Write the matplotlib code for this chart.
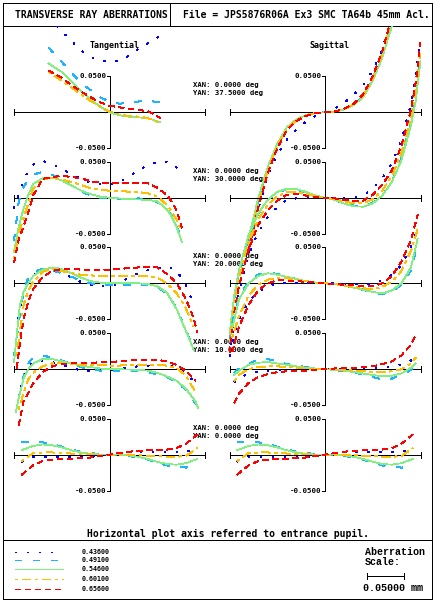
import matplotlib
matplotlib.use("Agg")
import matplotlib.pyplot as plt
from matplotlib.patches import Rectangle

nan = float("nan")
W, H = 440, 603

WAVELENGTHS = ["0.43600", "0.49100", "0.54600", "0.60100", "0.65600"]
COLORS = ["#0000ff", "#1eb4ff", "#80f080", "#ffbe00", "#ff0000"]
DASHES = [(1.1, 7.5), (5.0, 8.0), None, (2.0, 3.0, 6.0, 3.0), (4.3, 3.2)]
XAN = [0.0, 0.0, 0.0, 0.0, 0.0]
YAN = [37.5, 30.0, 20.0, 10.0, 0.0]

# ---- tangential fans (pupil py, aberration ey in mm) ----
t1_pupil = [-0.64, -0.5, -0.4, -0.3, -0.2, -0.1, 0.0, 0.1, 0.2, 0.3, 0.4, 0.53]
t1_436 = [0.132, 0.113, 0.099, 0.086, 0.077, 0.072, 0.070, 0.072, 0.078, 0.088, 0.096, 0.106]
t1_491 = [0.090, 0.070, 0.055, 0.041, 0.031, 0.021, 0.015, 0.012, 0.013, 0.015, 0.016, 0.014]
t1_546 = [0.068, 0.056, 0.043, 0.030, 0.018, 0.008, 0.000, -0.004, -0.006, -0.007, -0.008, -0.014]
t1_601 = [0.056, 0.044, 0.035, 0.025, 0.016, 0.008, 0.001, -0.003, -0.005, -0.006, -0.008, -0.015]
t1_656 = [0.058, 0.048, 0.038, 0.029, 0.021, 0.014, 0.009, 0.007, 0.005, 0.003, 0.002, -0.008]

t2_pupil = [-1.0, -0.95, -0.9, -0.85, -0.8, -0.7, -0.6, -0.5, -0.4, -0.3, -0.2, -0.1,
            0.0, 0.1, 0.2, 0.3, 0.4, 0.5, 0.6, 0.65, 0.7, 0.76]
t2_436 = [-0.015, 0.006, 0.024, 0.038, 0.046, 0.051, 0.047, 0.040, 0.033, 0.026, 0.021, 0.019,
          0.018, 0.021, 0.029, 0.038, 0.045, 0.050, 0.050, 0.048, 0.042, 0.030]
t2_491 = [-0.060, -0.005, 0.015, 0.025, 0.032, 0.036, 0.032, 0.025, 0.017, 0.009, 0.003, 0.000,
          -0.001, -0.002, -0.002, -0.001, -0.002, -0.006, -0.015, -0.025, -0.038, -0.060]
t2_546 = [-0.075, -0.040, -0.015, 0.004, 0.019, 0.027, 0.028, 0.024, 0.017, 0.010, 0.005, 0.0015,
          0.0, -0.001, -0.002, -0.0025, -0.003, -0.005, -0.016, -0.026, -0.040, -0.062]
t2_601 = [-0.085, -0.050, -0.028, -0.008, 0.012, 0.025, 0.028, 0.025, 0.022, 0.018, 0.013, 0.011,
          0.0097, 0.009, 0.0085, 0.008, 0.006, 0.002, -0.010, -0.019, -0.030, -0.047]
t2_656 = [-0.090, -0.058, -0.040, -0.020, 0.003, 0.026, 0.029, 0.030, 0.029, 0.027, 0.023, 0.021,
          0.021, 0.021, 0.021, 0.021, 0.020, 0.014, 0.004, -0.005, -0.017, -0.042]

t3_pupil = [-1.0, -0.97, -0.94, -0.9, -0.85, -0.8, -0.7, -0.6, -0.5, -0.4, -0.3, -0.2, -0.1,
            0.0, 0.1, 0.2, 0.3, 0.4, 0.5, 0.6, 0.7, 0.8, 0.88, 0.92]
t3_436 = [nan, -0.065, -0.035, -0.012, 0.004, 0.012, 0.018, 0.018, 0.015, 0.008, 0.002, -0.002, -0.004,
          -0.004, 0.000, 0.008, 0.014, 0.018, 0.021, 0.024, 0.018, -0.002, -0.030, nan]
t3_491 = [-0.100, -0.075, -0.045, -0.012, 0.008, 0.016, 0.020, 0.018, 0.014, 0.009, 0.004, 0.000, -0.002,
          -0.003, -0.003, -0.003, -0.002, -0.002, -0.005, -0.014, -0.034, -0.065, -0.090, nan]
t3_546 = [-0.110, -0.070, -0.032, -0.012, 0.000, 0.010, 0.019, 0.022, 0.020, 0.014, 0.008, 0.003, 0.001,
          0.000, 0.000, 0.000, 0.000, -0.001, -0.004, -0.013, -0.035, -0.066, -0.092, nan]
t3_601 = [nan, -0.100, -0.070, -0.030, -0.010, 0.002, 0.016, 0.020, 0.017, 0.014, 0.012, 0.011, 0.010,
          0.010, 0.010, 0.010, 0.010, 0.010, 0.008, 0.000, -0.013, -0.035, -0.060, nan]
t3_656 = [nan, -0.118, -0.085, -0.050, -0.025, -0.008, 0.009, 0.017, 0.020, 0.020, 0.019, 0.018, 0.018,
          0.019, 0.020, 0.021, 0.022, 0.023, 0.022, 0.013, 0.001, -0.022, -0.048, -0.068]

t4_pupil = [-0.98, -0.95, -0.9, -0.85, -0.8, -0.7, -0.6, -0.5, -0.4, -0.3, -0.2, -0.1,
            0.0, 0.1, 0.2, 0.3, 0.4, 0.5, 0.6, 0.7, 0.8, 0.9, 0.93]
t4_436 = [nan, -0.040, -0.010, 0.004, 0.010, 0.012, 0.010, 0.006, 0.002, -0.002, -0.003, -0.003,
          -0.002, 0.000, 0.002, 0.004, 0.005, 0.006, 0.006, 0.004, -0.004, -0.020, nan]
t4_491 = [nan, -0.040, -0.010, 0.008, 0.016, 0.019, 0.016, 0.012, 0.008, 0.003, 0.000, -0.002,
          -0.003, -0.003, -0.003, -0.003, -0.004, -0.007, -0.011, -0.018, -0.028, -0.048, nan]
t4_546 = [-0.060, -0.040, -0.013, 0.000, 0.008, 0.014, 0.014, 0.011, 0.008, 0.005, 0.003, 0.001,
          0.000, 0.000, -0.0005, -0.001, -0.002, -0.005, -0.010, -0.016, -0.027, -0.045, -0.054]
t4_601 = [nan, -0.056, -0.033, -0.014, -0.005, 0.004, 0.008, 0.008, 0.007, 0.006, 0.006, 0.006,
          0.005, 0.005, 0.006, 0.006, 0.006, 0.006, 0.005, 0.002, -0.009, -0.032, nan]
t4_656 = [nan, -0.078, -0.045, -0.033, -0.020, -0.004, 0.004, 0.007, 0.008, 0.009, 0.009, 0.0095,
          0.010, 0.011, 0.012, 0.0125, 0.013, 0.013, 0.011, 0.006, -0.002, -0.016, nan]

# on-axis field: tangential and sagittal fans are the same
r5_pupil = [-0.92, -0.8, -0.7, -0.6, -0.5, -0.4, -0.3, -0.2, -0.1, 0.0,
            0.1, 0.2, 0.3, 0.4, 0.5, 0.6, 0.7, 0.8, 0.92]
r5_436 = [-0.010, -0.003, -0.003, -0.003, -0.003, -0.003, -0.003, -0.003, -0.002, 0.0,
          0.002, 0.003, 0.003, 0.003, 0.003, 0.003, 0.003, 0.003, 0.010]
r5_491 = [0.017, 0.018, 0.017, 0.015, 0.011, 0.007, 0.004, 0.002, 0.001, 0.0,
          -0.001, -0.002, -0.004, -0.007, -0.011, -0.015, -0.017, -0.018, -0.017]
r5_546 = [0.006, 0.012, 0.014, 0.013, 0.010, 0.006, 0.003, 0.001, 0.0, 0.0,
          0.0, -0.001, -0.003, -0.006, -0.010, -0.013, -0.014, -0.012, -0.006]
r5_601 = [-0.009, 0.002, 0.003, 0.003, 0.002, 0.0015, 0.001, 0.0005, 0.0, 0.0,
          0.0, -0.0005, -0.001, -0.0015, -0.002, -0.003, -0.003, -0.002, 0.009]
r5_656 = [-0.028, -0.015, -0.009, -0.007, -0.0065, -0.006, -0.005, -0.004, -0.002, 0.0,
          0.002, 0.004, 0.005, 0.006, 0.0065, 0.007, 0.009, 0.015, 0.028]

# ---- sagittal fans (pupil px, aberration ex in mm) ----
s1_pupil = [-0.8, -0.7, -0.6, -0.5, -0.4, -0.3, -0.2, -0.1, 0.0, 0.1, 0.2, 0.3, 0.4, 0.5, 0.6, 0.7, 0.8]
s1_436 = [-0.195, -0.135, -0.088, -0.058, -0.038, -0.024, -0.013, -0.005, 0.0,
          0.005, 0.013, 0.024, 0.038, 0.058, 0.088, 0.135, 0.195]
s1_491 = [-0.182, -0.125, -0.079, -0.046, -0.022, -0.011, -0.004, -0.001, 0.0,
          0.001, 0.004, 0.011, 0.022, 0.046, 0.079, 0.125, 0.182]
s1_546 = [-0.175, -0.120, -0.076, -0.044, -0.021, -0.010, -0.004, -0.001, 0.0,
          0.001, 0.004, 0.010, 0.021, 0.044, 0.076, 0.120, 0.175]
s1_601 = [-0.186, -0.128, -0.081, -0.047, -0.023, -0.011, -0.004, -0.001, 0.0,
          0.001, 0.004, 0.011, 0.023, 0.047, 0.081, 0.128, 0.186]
s1_656 = [-0.192, -0.133, -0.085, -0.050, -0.025, -0.012, -0.005, -0.001, 0.0,
          0.001, 0.005, 0.012, 0.025, 0.050, 0.085, 0.133, 0.192]

s2_pupil = [-1.0, -0.95, -0.9, -0.8, -0.7, -0.6, -0.5, -0.4, -0.3, -0.2, -0.1, 0.0,
            0.1, 0.2, 0.3, 0.4, 0.5, 0.6, 0.7, 0.8, 0.9, 0.95, 1.0]
s2_436 = [-0.220, -0.170, -0.130, -0.080, -0.048, -0.027, -0.013, -0.003, -0.001, 0.0, 0.0, 0.0,
          0.0, 0.0, 0.001, 0.003, 0.013, 0.027, 0.048, 0.080, 0.130, 0.170, 0.220]
s2_491 = [-0.195, -0.140, -0.105, -0.055, -0.023, -0.003, 0.007, 0.012, 0.011, 0.008, 0.003, 0.0,
          -0.003, -0.008, -0.011, -0.012, -0.007, 0.003, 0.023, 0.055, 0.105, 0.140, 0.195]
s2_546 = [-0.190, -0.135, -0.100, -0.052, -0.022, -0.003, 0.008, 0.0125, 0.012, 0.008, 0.003, 0.0,
          -0.003, -0.008, -0.012, -0.0125, -0.008, 0.003, 0.022, 0.052, 0.100, 0.135, 0.190]
s2_601 = [-0.200, -0.150, -0.112, -0.062, -0.030, -0.010, 0.002, 0.008, 0.008, 0.005, 0.002, 0.0,
          -0.002, -0.005, -0.008, -0.008, -0.002, 0.010, 0.030, 0.062, 0.112, 0.150, 0.200]
s2_656 = [-0.215, -0.160, -0.122, -0.072, -0.038, -0.018, -0.004, 0.004, 0.005, 0.003, 0.001, 0.0,
          -0.001, -0.003, -0.005, -0.004, 0.004, 0.018, 0.038, 0.072, 0.122, 0.160, 0.215]

s3_pupil = [-0.97, -0.9, -0.8, -0.7, -0.6, -0.5, -0.4, -0.3, -0.2, -0.1, 0.0,
            0.1, 0.2, 0.3, 0.4, 0.5, 0.6, 0.7, 0.8, 0.9, 0.97]
s3_436 = [-0.080, -0.050, -0.025, -0.012, -0.004, 0.0, 0.001, 0.001, 0.001, 0.0, 0.0,
          0.0, -0.001, -0.001, -0.001, 0.0, 0.004, 0.012, 0.025, 0.050, 0.080]
s3_491 = [-0.055, -0.018, 0.002, 0.012, 0.015, 0.013, 0.009, 0.006, 0.003, 0.001, 0.0,
          -0.001, -0.003, -0.006, -0.009, -0.013, -0.015, -0.012, -0.002, 0.018, 0.055]
s3_546 = [-0.062, -0.022, 0.000, 0.010, 0.014, 0.012, 0.009, 0.006, 0.003, 0.001, 0.0,
          -0.001, -0.003, -0.006, -0.009, -0.012, -0.014, -0.010, 0.000, 0.022, 0.062]
s3_601 = [-0.075, -0.045, -0.017, -0.002, 0.005, 0.008, 0.007, 0.005, 0.003, 0.001, 0.0,
          -0.001, -0.003, -0.005, -0.007, -0.008, -0.005, 0.002, 0.017, 0.045, 0.075]
s3_656 = [-0.095, -0.060, -0.030, -0.010, 0.000, 0.004, 0.004, 0.003, 0.002, 0.001, 0.0,
          -0.001, -0.002, -0.003, -0.004, -0.004, 0.000, 0.010, 0.030, 0.060, 0.095]

s4_pupil = [-0.95, -0.9, -0.8, -0.7, -0.6, -0.5, -0.4, -0.3, -0.2, -0.1, 0.0,
            0.1, 0.2, 0.3, 0.4, 0.5, 0.6, 0.7, 0.8, 0.9, 0.95]
s4_436 = [-0.018, -0.012, -0.006, -0.003, -0.002, -0.001, -0.001, -0.001, -0.001, 0.0, 0.0,
          0.0, 0.001, 0.001, 0.001, 0.001, 0.002, 0.003, 0.006, 0.012, 0.018]
s4_491 = [-0.005, 0.001, 0.008, 0.013, 0.014, 0.011, 0.007, 0.005, 0.003, 0.001, 0.0,
          -0.001, -0.003, -0.005, -0.007, -0.011, -0.014, -0.013, -0.008, -0.001, 0.005]
s4_546 = [-0.008, -0.002, 0.006, 0.009, 0.010, 0.008, 0.006, 0.004, 0.002, 0.001, 0.0,
          -0.001, -0.002, -0.004, -0.006, -0.008, -0.010, -0.009, -0.006, 0.002, 0.008]
s4_601 = [-0.016, -0.008, 0.000, 0.003, 0.004, 0.004, 0.003, 0.002, 0.001, 0.0005, 0.0,
          -0.0005, -0.001, -0.002, -0.003, -0.004, -0.004, -0.003, 0.000, 0.008, 0.016]
s4_656 = [-0.047, -0.034, -0.019, -0.011, -0.007, -0.004, -0.003, -0.002, -0.002, -0.001, 0.0,
          0.001, 0.002, 0.002, 0.003, 0.004, 0.007, 0.011, 0.019, 0.034, 0.047]

TANGENTIAL = [
    (t1_pupil, [t1_436, t1_491, t1_546, t1_601, t1_656]),
    (t2_pupil, [t2_436, t2_491, t2_546, t2_601, t2_656]),
    (t3_pupil, [t3_436, t3_491, t3_546, t3_601, t3_656]),
    (t4_pupil, [t4_436, t4_491, t4_546, t4_601, t4_656]),
    (r5_pupil, [r5_436, r5_491, r5_546, r5_601, r5_656]),
]
SAGITTAL = [
    (s1_pupil, [s1_436, s1_491, s1_546, s1_601, s1_656]),
    (s2_pupil, [s2_436, s2_491, s2_546, s2_601, s2_656]),
    (s3_pupil, [s3_436, s3_491, s3_546, s3_601, s3_656]),
    (s4_pupil, [s4_436, s4_491, s4_546, s4_601, s4_656]),
    (r5_pupil, [r5_436, r5_491, r5_546, r5_601, r5_656]),
]

# layout in pixels
ROW_Y0 = [112.3, 197.7, 283.3, 369.2, 454.6]
COL_X0 = [109.5, 325.0]
HALF_W = 95.5
HALF_H = 36.0
SCALE = 0.05
LW_CURVE = 0.55
LW_AXIS = 0.7

plt.rcParams["lines.scale_dashes"] = False
MONO = "DejaVu Sans Mono"

fig = plt.figure(figsize=(W / 100, H / 100), dpi=100)
fig.patch.set_facecolor("white")

bg = fig.add_axes([0, 0, 1, 1])
bg.set_xlim(0, W)
bg.set_ylim(H, 0)
bg.axis("off")

# frame
kw = dict(color="black", lw=LW_AXIS, antialiased=False)
bg.plot([3, 432, 432, 3, 3], [3, 3, 599, 599, 3], **kw)
bg.plot([3, 432], [26, 26], **kw)
bg.plot([170, 170], [3, 26], **kw)
bg.plot([3, 432], [540, 540], **kw)

bg.text(15, 15, "TRANSVERSE RAY ABERRATIONS", family=MONO, weight="bold",
        fontsize=7.0, va="center", ha="left")
bg.text(183, 15, "File = JPS5876R06A Ex3 SMC TA64b 45mm Acl.", family=MONO,
        weight="bold", fontsize=7.0, va="center", ha="left")

bg.text(115, 45, "Tangential", family=MONO, fontsize=6, weight="bold", va="center", ha="center")
bg.text(329, 45, "Sagittal", family=MONO, fontsize=6, weight="bold", va="center", ha="center")

frame_clip = Rectangle((3 / W, 1 - 540 / H), 429 / W, 514 / H, transform=fig.transFigure)


def draw_panel(col, row, pupil, series):
    x0 = COL_X0[col]
    y0 = ROW_Y0[row]
    ax = fig.add_axes([(x0 - HALF_W) / W, 1 - (y0 + HALF_H) / H, 2 * HALF_W / W, 2 * HALF_H / H])
    ax.set_xlim(-1, 1)
    ax.set_ylim(-SCALE, SCALE)
    ax.axis("off")
    akw = dict(color="black", lw=LW_AXIS, antialiased=False, clip_on=False)
    tick_x = 3.0 / HALF_W
    tick_y = 3.0 / HALF_H * SCALE
    ax.plot([-1, 1], [0, 0], **akw)
    ax.plot([0, 0], [-SCALE, SCALE], **akw)
    for sx in (-1, 1):
        ax.plot([sx, sx], [-tick_y, tick_y], **akw)
    for sy in (-SCALE, SCALE):
        ax.plot([-tick_x, 0], [sy, sy], **akw)
    for vals, color, dash in zip(series, COLORS, DASHES):
        line, = ax.plot(pupil, vals, color=color, lw=LW_CURVE, antialiased=False)
        if dash is not None:
            line.set_dashes(dash)
        line.set_clip_path(frame_clip)
    bg.text(x0 - 3.5, y0 - HALF_H, "0.0500", family=MONO, weight="bold",
            fontsize=5.3, ha="right", va="center")
    bg.text(x0 - 3.5, y0 + HALF_H, "-0.0500", family=MONO, weight="bold",
            fontsize=5.3, ha="right", va="center")


for i in range(5):
    draw_panel(0, i, *TANGENTIAL[i])
    draw_panel(1, i, *SAGITTAL[i])
    y0 = ROW_Y0[i]
    bg.text(193, y0 - 27, f"XAN: {XAN[i]:.4f} deg", family=MONO, weight="bold",
            fontsize=5.2, ha="left", va="center")
    bg.text(193, y0 - 19, f"YAN: {YAN[i]:.4f} deg", family=MONO, weight="bold",
            fontsize=5.2, ha="left", va="center")

bg.text(87, 534, "Horizontal plot axis referred to entrance pupil.", family=MONO,
        weight="bold", fontsize=7.0, ha="left", va="center")

# legend
LEG_Y = [551.5, 560, 569, 578.7, 588.7]
for y, label, color, dash in zip(LEG_Y, WAVELENGTHS, COLORS, DASHES):
    ln, = bg.plot([15, 63], [y, y], color=color, lw=LW_CURVE, antialiased=False)
    if dash is not None:
        ln.set_dashes(dash)
    bg.text(82, y, label, family=MONO, weight="bold", fontsize=4.8, ha="left", va="center")

bg.text(365, 552, "Aberration", family="Liberation Mono", weight="bold", fontsize=7.2,
        ha="left", va="center")
bg.text(365, 562, "Scale:", family="Liberation Mono", weight="bold", fontsize=7.2,
        ha="left", va="center")
bg.plot([367, 404], [576, 576], **kw)
bg.plot([367, 367], [573, 579], **kw)
bg.plot([404, 404], [573, 579], **kw)
bg.text(363, 588, "0.05000 mm", family="Liberation Mono", weight="bold", fontsize=7.2,
        ha="left", va="center")

fig.savefig("out.png", dpi=100, facecolor="white")
